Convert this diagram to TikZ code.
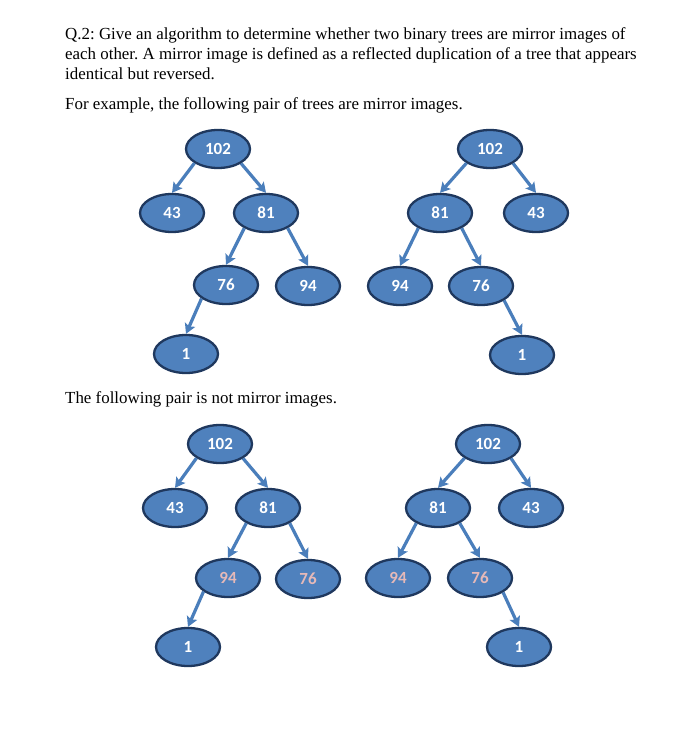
\documentclass[tikz,border=0pt]{standalone}
\usepackage{fontspec}
\setmainfont{Liberation Serif}
\newfontfamily\nodefont{Carlito}
\usetikzlibrary{arrows.meta,shapes.geometric}
\frenchspacing
\definecolor{nodefill}{RGB}{79,129,189}
\definecolor{nodeedge}{RGB}{31,56,94}
\definecolor{arrowcol}{RGB}{74,126,187}
\definecolor{pinktext}{RGB}{230,185,184}
\tikzset{
  tnode/.style={ellipse, draw=nodeedge, line width=2.3pt, fill=nodefill,
    minimum width=64pt, minimum height=38pt, inner sep=0pt,
    font=\nodefont\bfseries\fontsize{17}{17}\selectfont, text=white},
  pinknode/.style={tnode, text=pinktext},
  edge/.style={draw=arrowcol, line width=3.2pt,
    -{Stealth[length=10pt,width=11pt,inset=2pt]}},
  bodytext/.style={anchor=base west, inner sep=0pt,
    font=\fontsize{16.9}{20}\selectfont}
}
\begin{document}
\begin{tikzpicture}[x=1pt,y=-1pt]
\useasboundingbox[fill=white] (0,0) rectangle (685,743);
% text
\node[bodytext] (t1) at (65,40) {Q.2: Give an algorithm to determine whether two binary trees are mirror images of};
\node[bodytext] (t2) at (65,60) {each other. A mirror image is defined as a reflected duplication of a tree that appears};
\node[bodytext] (t3) at (65,80) {identical but reversed.};
\node[bodytext] (t4) at (65,110) {For example, the following pair of trees are mirror images.};
\node[bodytext] (t5) at (65,403) {The following pair is not mirror images.};
% tree A (top left)
\node[tnode] (a102) at (218,149) {102};
\node[tnode] (a43) at (172,213) {43};
\node[tnode] (a81) at (266,213) {81};
\node[tnode] (a76) at (226,285) {76};
\node[tnode] (a94) at (308,286) {94};
\node[tnode] (a1) at (186,354) {1};
\draw[edge] (a102.211) -- (a43.north);
\draw[edge] (a102.-32) -- (a81.north);
\draw[edge] (a81.215) -- (a76.north);
\draw[edge] (a81.-35) -- (a94.north);
\draw[edge] (a76.209) -- (a1.north);
% tree B (top right)
\node[tnode] (b102) at (490,149) {102};
\node[tnode] (b81) at (440,213) {81};
\node[tnode] (b43) at (536,213) {43};
\node[tnode] (b94) at (400,286) {94};
\node[tnode] (b76) at (481,286) {76};
\node[tnode] (b1) at (522,355) {1};
\draw[edge] (b102.211) -- (b81.north);
\draw[edge] (b102.-32) -- (b43.north);
\draw[edge] (b81.215) -- (b94.north);
\draw[edge] (b81.-35) -- (b76.north);
\draw[edge] (b76.-32) -- (b1.north);
% tree C (bottom left)
\node[tnode] (c102) at (220,444) {102};
\node[tnode] (c43) at (175,508) {43};
\node[tnode] (c81) at (268,508) {81};
\node[pinknode] (c94) at (228,578) {94};
\node[pinknode] (c76) at (308,579) {76};
\node[tnode] (c1) at (188,647) {1};
\draw[edge] (c102.211) -- (c43.north);
\draw[edge] (c102.-32) -- (c81.north);
\draw[edge] (c81.215) -- (c94.north);
\draw[edge] (c81.-35) -- (c76.north);
\draw[edge] (c94.209) -- (c1.north);
% tree D (bottom right)
\node[tnode] (d102) at (488,444) {102};
\node[tnode] (d81) at (438,508) {81};
\node[tnode] (d43) at (531,508) {43};
\node[pinknode] (d94) at (398,578) {94};
\node[pinknode] (d76) at (480,578) {76};
\node[tnode] (d1) at (519,647) {1};
\draw[edge] (d102.211) -- (d81.north);
\draw[edge] (d102.-32) -- (d43.north);
\draw[edge] (d81.215) -- (d94.north);
\draw[edge] (d81.-35) -- (d76.north);
\draw[edge] (d76.-32) -- (d1.north);
\end{tikzpicture}
\end{document}
